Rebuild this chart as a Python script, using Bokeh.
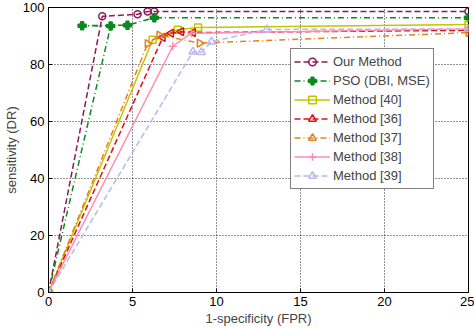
import math
from bokeh.plotting import figure
from bokeh.models import Range1d, Legend, LegendItem, FixedTicker
from bokeh.embed import file_html
from bokeh.resources import INLINE

# ---- data ----
labels = ["Our Method", "PSO (DBI, MSE)", "Method [40]", "Method [36]",
          "Method [37]", "Method [38]", "Method [39]"]

our_x = [0, 3.2, 5.3, 5.9, 6.3, 25]
our_y = [0, 96.9, 97.6, 98.6, 98.6, 98.6]

pso_x = [0, 3.7, 2.0, 4.7, 6.3, 25]
pso_y = [0, 93.5, 93.6, 93.8, 96.4, 96.4]

m40_x = [0, 6.2, 7.7, 8.9, 25]
m40_y = [0, 88.7, 92.2, 93.0, 94.0]

m36_x = [0, 6.8, 7.3, 7.9, 8.6, 25]
m36_y = [0, 89.5, 91.0, 91.5, 91.2, 92.0]

m37_x = [0, 5.9, 6.6, 9.0, 25]
m37_y = [0, 87.3, 90.3, 87.5, 91.2]

m38_x = [0, 7.4, 8.5, 25]
m38_y = [0, 86.4, 91.0, 92.5]

m39_x = [0, 8.6, 9.1, 9.7, 13.0, 25]
m39_y = [0, 84.5, 84.3, 88.0, 92.3, 92.5]

x_ticks = [0, 5, 10, 15, 20, 25]
y_ticks = [0, 20, 40, 60, 80, 100]

FONT = "Liberation Sans"

p = figure(width=474, height=328, output_backend="svg", toolbar_location=None,
           x_range=Range1d(0, 25), y_range=Range1d(0, 100),
           min_border_left=0, min_border_right=6, min_border_top=7,
           min_border_bottom=0)
p.background_fill_color = "white"
p.border_fill_color = "white"
p.outline_line_color = "black"
p.outline_line_width = 1

for ax in (p.xaxis[0], p.yaxis[0]):
    ax.major_tick_in = 4
    ax.major_tick_out = 0
    ax.minor_tick_line_color = None
    ax.major_label_text_font = FONT
    ax.major_label_text_font_size = "13px"
    ax.major_label_text_color = "black"
    ax.axis_label_text_font = FONT
    ax.axis_label_text_font_size = "13px"
    ax.axis_label_text_font_style = "normal"
    ax.axis_line_color = "black"

p.xaxis[0].ticker = FixedTicker(ticks=x_ticks)
p.yaxis[0].ticker = FixedTicker(ticks=y_ticks)
p.xaxis[0].axis_label = "1-specificity (FPR)"
p.yaxis[0].axis_label = "sensitivity (DR)"
p.xaxis[0].major_label_standoff = 4
p.yaxis[0].major_label_standoff = 4
p.xaxis[0].axis_label_standoff = 2
p.yaxis[0].axis_label_standoff = 1

p.xgrid.ticker = FixedTicker(ticks=x_ticks)
p.ygrid.ticker = FixedTicker(ticks=y_ticks)
for g in (p.xgrid[0], p.ygrid[0]):
    g.grid_line_color = "black"
    g.grid_line_dash = "1 2"
    g.grid_line_alpha = 0.85

series = [
    (our_x, our_y, "#8B1A5A", "6 3", "circle", 0, False, 7),
    (pso_x, pso_y, "#0A8A1E", "6 3 1 3", "plus", 0, True, 8),
    (m40_x, m40_y, "#C4C400", "solid", "square", 0, False, 7),
    (m36_x, m36_y, "#E01010", "6 3", "triangle", 90, False, 8),
    (m37_x, m37_y, "#E8801E", "6 3 1 3", "triangle", -90, False, 8),
    (m38_x, m38_y, "#FF8CB0", "solid", "cross", 0, False, 8),
    (m39_x, m39_y, "#B8B8F0", "6 3", "triangle", 0, False, 8),
]

items = []
for (xs, ys, col, dash, mk, ang, filled, sz), lab in zip(series, labels):
    lr = p.line(xs, ys, line_color=col, line_width=1.5, line_dash=dash)
    sr = p.scatter(xs, ys, marker=mk, angle=ang, angle_units="deg", size=sz,
                   line_color=col, line_width=1.5,
                   fill_color=col if filled else None)
    items.append(LegendItem(label=lab, renderers=[lr, sr]))

legend = Legend(items=items, location=(242, 103), margin=0, padding=3,
                spacing=0, glyph_width=36, glyph_height=19, label_height=19,
                label_standoff=3, label_text_font=FONT,
                label_text_font_size="13px", border_line_color="black",
                border_line_width=1, background_fill_alpha=1.0)
p.add_layout(legend, "center")

open("out.html", "w").write(file_html(p, INLINE))
